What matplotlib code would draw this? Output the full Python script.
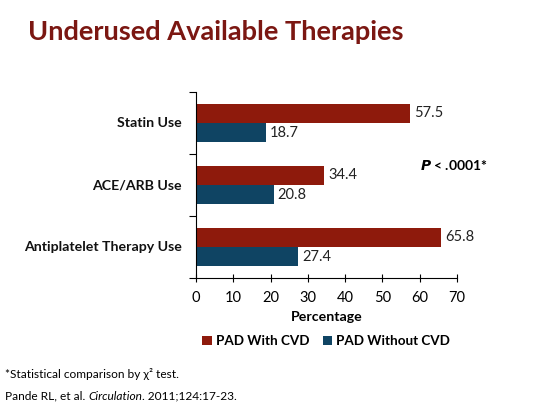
import numpy as np
import matplotlib.pyplot as plt

# data
categories = ['Statin Use', 'ACE/ARB Use', 'Antiplatelet Therapy Use']
with_cvd = [57.5, 34.4, 65.8]
without_cvd = [18.7, 20.8, 27.4]
series_names = ['PAD With CVD', 'PAD Without CVD']
xticks = [0, 10, 20, 30, 40, 50, 60, 70]

red = '#8E1A0C'
blue = '#0F4463'
title_color = '#7B1712'

plt.rcParams['font.family'] = ['Lato', 'DejaVu Sans']

fig = plt.figure(figsize=(5.4, 4.05), dpi=100)
ax = fig.add_axes([196 / 540, 1 - 278 / 405, 261 / 540, 186 / 405])

pos = np.arange(len(categories))[::-1]
h = 0.31
ax.barh(pos + h / 2, with_cvd, height=h, color=red, label=series_names[0])
ax.barh(pos - h / 2, without_cvd, height=h, color=blue, label=series_names[1])

for p, v in zip(pos, with_cvd):
    ax.text(v + 1.0, p + h / 2, f'{v}', va='center', ha='left', fontsize=10.5, color='#222222')
for p, v in zip(pos, without_cvd):
    ax.text(v + 1.0, p - h / 2, f'{v}', va='center', ha='left', fontsize=10.5, color='#222222')

ax.set_xlim(0, 70)
ax.set_ylim(-0.5, 2.5)
ax.set_xticks(xticks)
ax.tick_params(axis='x', direction='inout', length=6, labelsize=10.5, pad=6)
ax.set_yticks([-0.5, 0.5, 1.5, 2.5])
ax.set_yticklabels([])
ax.tick_params(axis='y', direction='out', length=5)
for p, c in zip(pos, categories):
    ax.text(-0.055, p, c, transform=ax.get_yaxis_transform(), ha='right', va='center',
            fontsize=10.2, fontweight='bold', color='#111111')
ax.spines['top'].set_visible(False)
ax.spines['right'].set_visible(False)
ax.set_xlabel('Percentage', fontsize=10.2, fontweight='bold', labelpad=5)

ax.text(60.2, 1.32, r'$\boldsymbol{P}$ < .0001*', ha='left', va='center',
        fontsize=10, fontweight='bold')

fig.legend(loc='center', bbox_to_anchor=(326 / 540, 1 - 341 / 405), ncol=2, frameon=False,
           handlelength=0.7, handleheight=0.7, handletextpad=0.3, columnspacing=1.0,
           prop={'weight': 'bold', 'size': 9.7})

fig.text(28 / 540, 1 - 32 / 405, 'Underused Available Therapies', fontsize=19.5, fontweight='bold',
         color=title_color, va='center', ha='left')
fig.text(5 / 540, 1 - 374 / 405, '*Statistical comparison by χ² test.', fontsize=8.6,
         va='center', ha='left')

# citation with italic journal name
renderer = fig.canvas.get_renderer()
x0 = 5 / 540
parts = [('Pande RL, et al. ', 'normal'), ('Circulation', 'italic'), ('. 2011;124:17-23.', 'normal')]
for txt, style in parts:
    t = fig.text(x0, 1 - 396 / 405, txt, fontsize=8.6, style=style, va='center', ha='left')
    bb = t.get_window_extent(renderer=renderer)
    x0 += bb.width / fig.bbox.width

fig.savefig('out.png', dpi=100)
